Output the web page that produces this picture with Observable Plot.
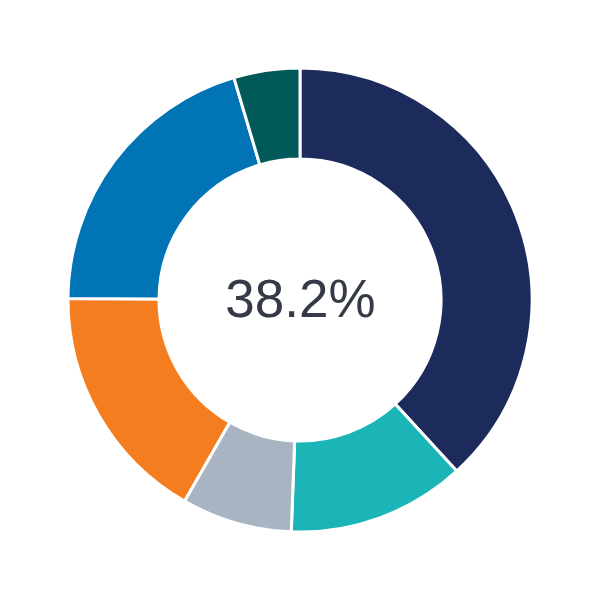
<!DOCTYPE html>
<html>
<head>
<meta charset="utf-8">
<script src="https://cdn.jsdelivr.net/npm/d3@7"></script>
<script src="https://cdn.jsdelivr.net/npm/@observablehq/plot@0.6"></script>
<style>
  html, body { margin: 0; padding: 0; background: #fff; }
  #chart { width: 600px; height: 600px; }
</style>
</head>
<body>
<div id="chart"></div>
<script>
const categories = ["A", "B", "C", "D", "E", "F"];
const values = [38.2, 12.4, 7.7, 16.8, 20.3, 4.6];
const colors = ["#1c2b5b", "#1bb5b7", "#a8b4c2", "#f47d20", "#0074b4", "#015a59"];
const centerLabel = "38.2%";

const data = categories.map((c, i) => ({category: c, value: values[i], color: colors[i]}));

const OUTER = 232, INNER = 141;

const pie = d3.pie().sort(null).value(d => d.value);
const arcs = pie(data);

function donutMark(index, scales, values_, dimensions) {
  const cx = scales.x(0), cy = scales.y(0);
  const ro = Math.abs(scales.x(OUTER) - cx);
  const ri = Math.abs(scales.x(INNER) - cx);
  const arcGen = d3.arc().innerRadius(ri).outerRadius(ro);
  const g = d3.create("svg:g").attr("transform", `translate(${cx},${cy})`);
  g.selectAll("path")
    .data(arcs)
    .join("path")
    .attr("d", arcGen)
    .attr("fill", d => d.data.color)
    .attr("stroke", "#fff")
    .attr("stroke-width", 3)
    .attr("stroke-linejoin", "round");
  return g.node();
}

const chart = Plot.plot({
  width: 600,
  height: 600,
  margin: 0,
  x: {domain: [-300, 300], axis: null},
  y: {domain: [-300, 300], axis: null},
  style: {background: "#fff", fontFamily: "'Liberation Sans', Arial, sans-serif"},
  marks: [
    donutMark,
    Plot.text([centerLabel], {
      x: () => 0, y: () => 0,
      text: d => d,
      fontSize: 53,
      fill: "#353a47",
      dy: 0,
      textAnchor: "middle",
      lineAnchor: "middle"
    })
  ]
});
document.getElementById("chart").appendChild(chart);
</script>
</body>
</html>
